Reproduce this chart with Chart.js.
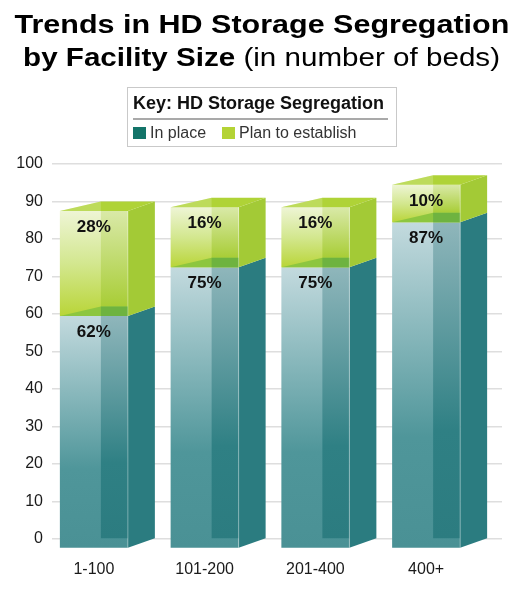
<!DOCTYPE html>
<html>
<head>
<meta charset="utf-8">
<script src="https://cdn.jsdelivr.net/npm/chart.js@4"></script>
<style>
  body { margin: 0; background: #fff; }
  #wrap { position: relative; width: 517px; height: 600px; overflow: hidden; font-family: "Liberation Sans", Arial, sans-serif; }
  #chart { position: absolute; left: 0; top: 0; }
  .title-line { position: absolute; left: 0; width: 517px; text-align: center; font-size: 26px; line-height: 33px; color: #000; white-space: nowrap; }
  .title-line span.fit { display: inline-block; transform-origin: center; }
  #key { position: absolute; left: 127px; top: 87px; width: 270px; height: 60px; border: 1.5px solid #c9c9c9; box-sizing: border-box; }
  #key .head { position: absolute; left: 5px; top: 4px; font-weight: bold; font-size: 18px; line-height: 22px; color: #111; white-space: nowrap; }
  #key .rule { position: absolute; left: 5px; right: 8px; top: 30px; height: 1.5px; background: #a9a9a9; }
  #key .item { position: absolute; top: 35px; font-size: 16px; line-height: 20px; color: #333; white-space: nowrap; }
  #key .sw { display: inline-block; width: 13px; height: 12px; margin-right: 4px; vertical-align: -1px; }
</style>
</head>
<body>
<div id="wrap">
  <canvas id="chart" width="517" height="600"></canvas>
  <div class="title-line" style="top:8px;padding-left:7px;box-sizing:border-box"><span class="fit" data-w="495"><b>Trends in HD Storage Segregation</b></span></div>
  <div class="title-line" style="top:41px;padding-left:7px;box-sizing:border-box"><span class="fit" data-w="477"><b>by Facility Size</b> (in number of beds)</span></div>
  <div id="key">
    <div class="head">Key: HD Storage Segregation</div>
    <div class="rule"></div>
  </div>
</div>
<script>
const categories = ['1-100', '101-200', '201-400', '400+'];
const inPlace = [62, 75, 75, 87];
const planToEstablish = [28, 16, 16, 10];
const seriesNames = ['In place', 'Plan to establish'];
const seriesColors = ['#137469', '#b4d335'];

// stretch title lines to the width they have in the original
document.querySelectorAll('.fit').forEach(el => {
    const s = parseFloat(el.dataset.w) / el.getBoundingClientRect().width;
    el.style.transform = 'scaleX(' + s.toFixed(3) + ')';
});

// key entries
const key = document.getElementById('key');
const itemLeft = [5, 94];
seriesNames.forEach((name, i) => {
    const d = document.createElement('div');
    d.className = 'item';
    d.style.left = itemLeft[i] + 'px';
    d.innerHTML = '<span class="sw" style="background:' + seriesColors[i] + '"></span>' + name;
    key.appendChild(d);
});

// look of the boxes
const DX_FRONT = 68;   // front face width
const DX_SIDE = 27;    // side face depth
const DX_BACK = 41;    // back face left shift
const DY = 9.5;        // front face drop
const looks = [
    {
        front: [['#c3dade', 0], ['#4f969a', 0.66], ['#4a9195', 1]],
        strip: [['#8fb6bb', 0], ['#2f8084', 0.66], ['#2c7c80', 1]],
        side: '#2b7c80'
    },
    {
        front: [['#eef5d5', 0], ['#d3e78f', 0.5], ['#b9d538', 1]],
        strip: [['#d9e9a8', 0], ['#a8cd36', 1]],
        side: '#a3ca36',
        top: '#afd337',
        under: '#8dc63f',
        underStrip: '#6eb340'
    }
];

function grad(ctx, y0, y1, stops) {
    const g = ctx.createLinearGradient(0, y0, 0, y1);
    stops.forEach(s => g.addColorStop(s[1], s[0]));
    return g;
}

function poly(ctx, pts, fill) {
    ctx.beginPath();
    ctx.moveTo(pts[0][0], pts[0][1]);
    for (let k = 1; k < pts.length; k++) ctx.lineTo(pts[k][0], pts[k][1]);
    ctx.closePath();
    ctx.fillStyle = fill;
    ctx.fill();
}

const box3d = {
    id: 'box3d',
    beforeDatasetsDraw(chart) {
        const ctx = chart.ctx;
        const metas = chart.data.datasets.map((_, d) => chart.getDatasetMeta(d));
        ctx.save();
        categories.forEach((_, i) => {
            metas.forEach((meta, d) => {
                const bar = meta.data[i].getProps(['x', 'y', 'base'], true);
                const look = looks[d];
                const yt = bar.y, yb = bar.base;
                const fL = bar.x - (DX_FRONT + DX_SIDE) / 2;
                const fR = fL + DX_FRONT;
                const bL = fL + DX_BACK;
                const bR = fR + DX_SIDE;
                // side face
                poly(ctx, [[fR, yt + DY], [bR, yt], [bR, yb], [fR, yb + DY]], look.side);
                // front face
                ctx.fillStyle = grad(ctx, yt + DY, yb + DY, look.front);
                ctx.fillRect(fL, yt + DY, DX_FRONT, yb - yt);
                // back face seen through the front
                ctx.fillStyle = grad(ctx, yt + DY, yb, look.strip);
                ctx.fillRect(bL, yt + DY, fR - bL, yb - yt - DY);
                // top face of the segment below, seen through this one
                if (look.under) {
                    poly(ctx, [[fL, yb + DY], [bL, yb], [fR, yb], [fR, yb + DY]], look.under);
                    ctx.fillStyle = look.underStrip;
                    ctx.fillRect(bL, yb, fR - bL, DY);
                }
                // top face
                if (look.top && d === metas.length - 1) {
                    poly(ctx, [[fL, yt + DY], [bL, yt], [bR, yt], [fR, yt + DY]], look.top);
                    poly(ctx, [[fL, yt + DY], [bL, yt], [bL, yt + DY]], 'rgba(255,255,255,0.18)');
                }
                // light edge between front and side
                ctx.fillStyle = 'rgba(255,255,255,0.35)';
                ctx.fillRect(fR - 0.5, yt + DY, 1, yb - yt);
                // value label
                const v = chart.data.datasets[d].data[i];
                ctx.fillStyle = '#111';
                ctx.font = 'bold 17px "Liberation Sans", Arial, sans-serif';
                ctx.textAlign = 'center';
                ctx.textBaseline = 'middle';
                ctx.fillText(v + '%', fL + DX_FRONT / 2, yt + DY + 16.5);
            });
        });
        ctx.restore();
        return false;
    }
};

const tickFont = { family: '"Liberation Sans", Arial, sans-serif', size: 16 };

new Chart(document.getElementById('chart'), {
    type: 'bar',
    data: {
        labels: categories,
        datasets: [
            { label: seriesNames[0], data: inPlace, backgroundColor: seriesColors[0] },
            { label: seriesNames[1], data: planToEstablish, backgroundColor: seriesColors[1] }
        ]
    },
    options: {
        responsive: false,
        animation: false,
        layout: { padding: { top: 164, right: 15, bottom: 0, left: 0 } },
        plugins: {
            legend: { display: false },
            title: { display: false },
            tooltip: { enabled: false }
        },
        scales: {
            x: {
                stacked: true,
                grid: { display: false, drawTicks: false },
                border: { display: false },
                ticks: { color: '#1a1a1a', font: tickFont, padding: 21, labelOffset: -13.5 },
                afterFit: s => { s.height = 61; }
            },
            y: {
                stacked: true,
                min: 0,
                max: 100,
                grid: { color: '#dedede', lineWidth: 1.5, drawTicks: false },
                border: { display: false },
                ticks: { stepSize: 10, color: '#1a1a1a', font: tickFont, padding: 9 },
                afterFit: s => { s.width = 52; }
            },
            y2: {
                position: 'right',
                min: 0,
                max: 100,
                grid: { color: '#dedede', lineWidth: 1.5, drawOnChartArea: false, drawTicks: true, tickLength: 7 },
                border: { display: false },
                ticks: { stepSize: 10, display: false },
                afterFit: s => { s.width = 7; }
            }
        }
    },
    plugins: [box3d]
});
</script>
</body>
</html>
